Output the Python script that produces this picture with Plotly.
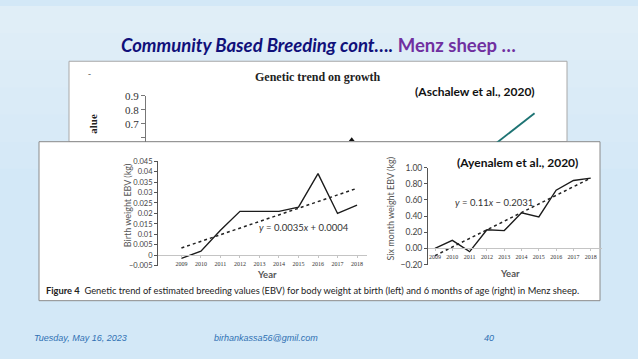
import plotly.graph_objects as go

W, H = 638, 359


def px(x):
    return x / W


def py(y):
    return 1 - y / H


# ---------------- data ----------------
years = [2009, 2010, 2011, 2012, 2013, 2014, 2015, 2016, 2017, 2018]
year_labels = [str(y) for y in years]

birth_ebv = [-0.0015, 0.002, 0.012, 0.021, 0.021, 0.021, 0.023, 0.039, 0.020, 0.024]
birth_trend_years = [2009, 2018]
birth_trend = [0.0035, 0.032]
birth_ticks = [-0.005, 0, 0.005, 0.01, 0.015, 0.02, 0.025, 0.03, 0.035, 0.04, 0.045]
birth_ticklabels = ["\u22120.005", "0", "0.005", "0.01", "0.015", "0.02", "0.025",
                    "0.03", "0.035", "0.04", "0.045"]

six_ebv = [0.00, 0.10, -0.04, 0.23, 0.22, 0.44, 0.39, 0.72, 0.84, 0.87]
six_trend_years = [2009, 2018]
six_trend = [-0.09, 0.87]
six_ticks = [-0.2, 0.0, 0.2, 0.4, 0.6, 0.8, 1.0]
six_ticklabels = ["\u22120.20", "0.00", "0.20", "0.40", "0.60", "0.80", "1.00"]

# partially hidden upper chart ("Genetic trend on growth")
top_ticks = [0.6, 0.7, 0.8, 0.9]
top_ticklabels = ["", "0.7", "0.8", "0.9"]
top_teal_x = [8, 9]
top_teal = [0.52, 0.775]
top_mark_x = [5]
top_mark = [0.585]

# ---------------- figure ----------------
fig = go.Figure()

fig.add_trace(go.Scatter(x=years, y=birth_ebv, mode="lines",
                         line=dict(color="#1c1c1c", width=1.4),
                         xaxis="x", yaxis="y", showlegend=False))
fig.add_trace(go.Scatter(x=birth_trend_years, y=birth_trend, mode="lines",
                         line=dict(color="#222222", width=1.5, dash="dot"),
                         xaxis="x", yaxis="y", showlegend=False))
fig.add_trace(go.Scatter(x=years, y=six_ebv, mode="lines",
                         line=dict(color="#1c1c1c", width=1.4),
                         xaxis="x2", yaxis="y2", showlegend=False))
fig.add_trace(go.Scatter(x=six_trend_years, y=six_trend, mode="lines",
                         line=dict(color="#222222", width=1.5, dash="dot"),
                         xaxis="x2", yaxis="y2", showlegend=False))
fig.add_trace(go.Scatter(x=top_teal_x, y=top_teal, mode="lines",
                         line=dict(color="#1d7373", width=1.8),
                         xaxis="x3", yaxis="y3", showlegend=False))
fig.add_trace(go.Scatter(x=top_mark_x, y=top_mark, mode="markers",
                         marker=dict(symbol="triangle-up", size=5, color="#111111"),
                         xaxis="x3", yaxis="y3", showlegend=False))

axis_common = dict(showgrid=False, zeroline=False, fixedrange=True)

fig.update_layout(
    width=W, height=H,
    margin=dict(l=0, r=0, t=0, b=0),
    paper_bgcolor="#d3e8f7",
    plot_bgcolor="rgba(0,0,0,0)",
    hovermode=False,
    xaxis=dict(domain=[px(158), px(367)], range=[2007.8, 2018.51],
               anchor="free", position=py(257.2),
               tickmode="array", tickvals=years, ticktext=year_labels,
               tickfont=dict(family="Liberation Serif", size=6, color="#333333"),
               showline=True, linecolor="#c4c4c4", linewidth=1,
               ticks="outside", ticklen=2, tickcolor="#c4c4c4", **axis_common),
    yaxis=dict(domain=[py(268), py(160)], range=[-0.005, 0.045], anchor="x",
               tickmode="array", tickvals=birth_ticks, ticktext=birth_ticklabels,
               tickfont=dict(family="Lato", size=7.5, color="#444444"),
               showline=True, linecolor="#555555", linewidth=1,
               ticks="outside", ticklen=3, tickcolor="#555555", **axis_common),
    xaxis2=dict(domain=[px(428), px(602)], range=[2008.595, 2018.65],
                anchor="free", position=py(250),
                tickmode="array", tickvals=years, ticktext=year_labels,
                tickfont=dict(family="Liberation Serif", size=6, color="#333333"),
                showline=True, linecolor="#c4c4c4", linewidth=1,
                ticks="outside", ticklen=2, tickcolor="#c4c4c4", **axis_common),
    yaxis2=dict(domain=[py(266.7), py(166.7)], range=[-0.2, 1.0], anchor="x2",
                tickmode="array", tickvals=six_ticks, ticktext=six_ticklabels,
                tickfont=dict(family="Lato", size=8.5, color="#444444"),
                showline=True, linecolor="#555555", linewidth=1,
                ticks="outside", ticklen=3, tickcolor="#555555", **axis_common),
    xaxis3=dict(domain=[px(146), px(562)], range=[0.5, 9.6], anchor="y3",
                visible=False, **axis_common),
    yaxis3=dict(domain=[py(140), py(92.7)], range=[0.5715, 0.9], anchor="x3",
                tickmode="array", tickvals=top_ticks, ticktext=top_ticklabels,
                tickfont=dict(family="Liberation Serif", size=11, color="#333333"),
                showline=True, linecolor="#777777", linewidth=1,
                ticks="outside", ticklen=4, tickcolor="#777777", **axis_common),
)

# soft lighter top of the slide background
for k in range(1, 7):
    fig.add_shape(type="rect", xref="paper", yref="paper", layer="below",
                  x0=0, x1=1, y0=py(k * 28), y1=1,
                  fillcolor="rgba(255,255,255,0.07)", line=dict(width=0))

# picture frames
fig.add_shape(type="rect", xref="paper", yref="paper", layer="below",
              x0=px(69), x1=px(567), y0=py(140), y1=py(57),
              fillcolor="white", line=dict(color="#a8a8a8", width=1))
fig.add_shape(type="rect", xref="paper", yref="paper", layer="below",
              x0=px(39), x1=px(600), y0=py(304), y1=py(140),
              fillcolor="white", line=dict(color="#8a8a8a", width=1))


def note(text, x, y, size, color="#222222", family="Lato", angle=0,
         xanchor="center", yanchor="middle"):
    fig.add_annotation(text=text, x=px(x), y=py(y), xref="paper", yref="paper",
                       showarrow=False, textangle=angle,
                       xanchor=xanchor, yanchor=yanchor,
                       font=dict(family=family, size=size, color=color))


# slide title
note("<b><i><span style='color:#10107a'>Community Based Breeding cont\u2026.</span></i>"
     " <span style='color:#7030a0'>Menz sheep \u2026</span></b>",
     318, 40, 18.5)

# upper (covered) picture
note("<b>Genetic trend on growth</b>", 318, 73, 12, "#222222", "Liberation Serif")
note("-", 89, 70, 9, "#444444", "Liberation Serif")
note("<b>alue</b>", 93.5, 121, 11, "#222222", "Liberation Serif", angle=-90)
note("<b>(Aschalew et al., 2020)</b>", 475, 88, 12, "#111111")

# lower picture
note("<b>(Ayenalem et al., 2020)</b>", 517, 161, 12, "#111111")
note("<i>y</i> = 0.0035<i>x</i> + 0.0004", 304, 229, 9.5, "#333333")
note("<i>y</i> = 0.11<i>x</i> \u2212 0.2031", 494, 203, 9.5, "#333333")
note("Birth weight EBV (kg)", 127.5, 205, 9, "#555555", angle=-90)
note("Six month weight EBV (kg)", 391, 209, 9, "#555555", angle=-90)
note("<b>Year</b>", 267, 277, 9.5, "#555555")
note("<b>Year</b>", 510, 276, 9.5, "#555555")
note("<b>Figure 4</b>  Genetic trend of estimated breeding values (EBV) for body weight "
     "at birth (left) and 6 months of age (right) in Menz sheep.",
     44, 293, 9.3, "#222222", xanchor="left")

# footer
note("<i>Tuesday, May 16, 2023</i>", 32, 342, 9, "#2f70b3", "Liberation Sans",
     xanchor="left")
note("<i>birhankassa56@gmil.com</i>", 212, 342, 9, "#2f70b3", "Liberation Sans",
     xanchor="left")
note("<i>40</i>", 489, 342, 9, "#2f70b3", "Liberation Sans")

fig.write_html(
    "out.html",
    config={"displayModeBar": False, "staticPlot": True},
    post_script="document.body.style.margin='0';document.body.style.overflow='hidden';",
)
